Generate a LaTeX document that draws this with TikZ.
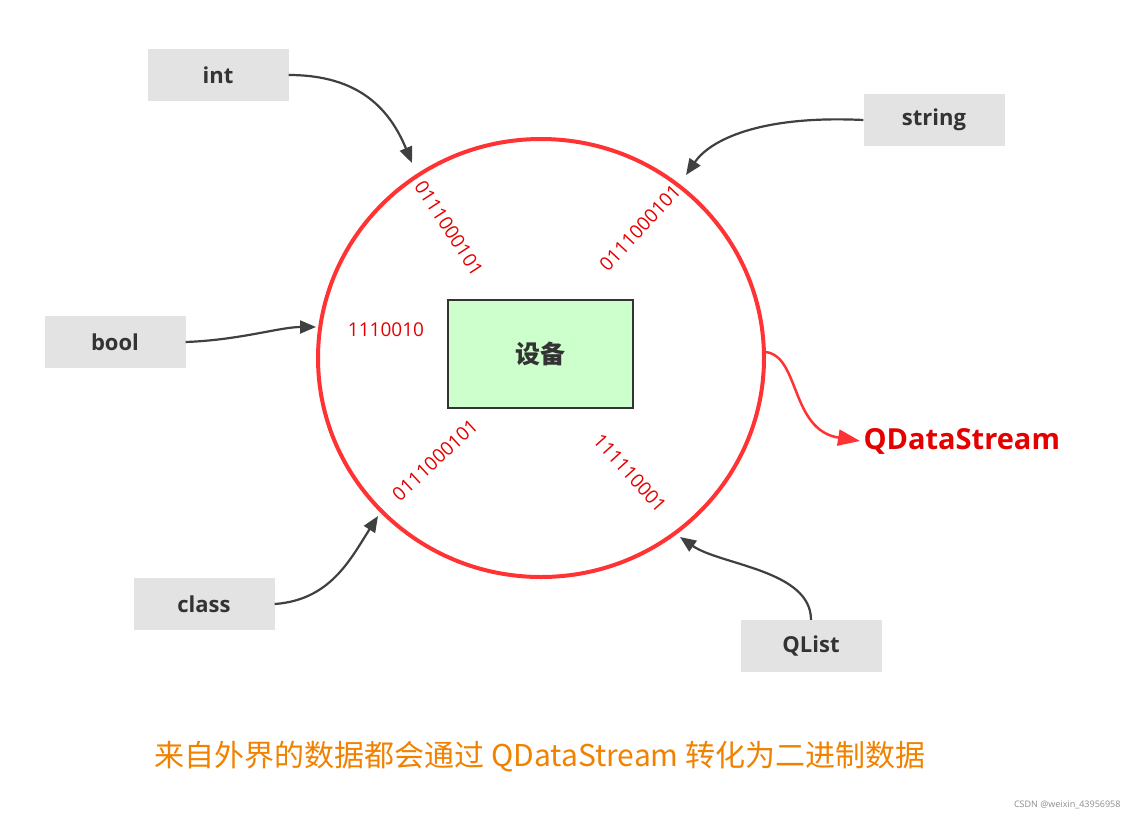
\documentclass[tikz,border=0pt]{standalone}
\usepackage{fontspec}
\setmainfont{Open Sans}
\newfontfamily\cjk{Noto Sans CJK SC}
\usetikzlibrary{arrows.meta}
\begin{document}
\begin{tikzpicture}[x=1pt,y=-1pt,
  tbox/.style={fill=black!11,minimum width=141pt,minimum height=52pt,font=\fontsize{22}{26}\selectfont\bfseries,text=black!80},
  arr/.style={draw=black!75,line width=2.2pt,-{Triangle[length=16pt,width=13pt]}},
  bits/.style={text=red!90!black,inner sep=0pt,font=\fontsize{19}{22}\selectfont}]
\useasboundingbox (0,0) rectangle (1138,820);
\fill[white] (0,0) rectangle (1138,820);
\draw[red!80,line width=4pt] (541,358) ellipse (223pt and 219pt);
\node[draw=black!80,line width=2pt,fill={rgb,255:red,204;green,255;blue,204},minimum width=185pt,minimum height=108pt,font=\cjk\fontsize{25}{28}\selectfont\bfseries,text=black!80] (dev) at (540,354) {设备};
\node[tbox] (int) at (218,75) {int};
\node[tbox] (string) at (934,120) {string};
\node[tbox] (bool) at (115,342) {bool};
\node[tbox] (class) at (204,604) {class};
\node[tbox] (qlist) at (811,646) {QList};
\coordinate (cint) at (412,163);
\coordinate (cstr) at (686,175);
\coordinate (cbool) at (316,327);
\coordinate (ccls) at (378,516);
\coordinate (cql) at (680,537);
\coordinate (cout) at (765,352);
\draw[arr] (int.east) .. controls (360,75) and (390,110) .. (cint);
\draw[arr] (string.west) .. controls (760,115) and (710,140) .. (cstr);
\draw[arr] (bool.east) .. controls (240,340) and (280,327) .. (cbool);
\draw[arr] (class.east) .. controls (330,600) and (350,560) .. (ccls);
\draw[arr] (qlist.north) .. controls (811,570) and (720,565) .. (cql);
\node[text=red!90!black,font=\fontsize{29}{32}\selectfont\bfseries,anchor=west] (qds) at (860,441) {QDataStream};
\draw[draw=red!80,line width=2.5pt,-{Triangle[length=22pt,width=16pt]}] (cout) .. controls (800,355) and (790,430) .. (qds.west);
\node[bits,rotate=-57] (b1) at (449,228) {0111000101};
\node[bits,rotate=47] (b2) at (640,228) {0111000101};
\node[bits,rotate=43] (b3) at (435,460) {0111000101};
\node[bits,rotate=-48] (b4) at (630,473) {111110001};
\node[bits] (b5) at (386,330) {1110010};
\node[text={rgb,255:red,240;green,130;blue,0},font=\cjk\fontsize{30}{34}\selectfont] (cap) at (540,757) {来自外界的数据都会通过 QDataStream 转化为二进制数据};
\node[text=black!45,font=\fontsize{9}{10}\selectfont,anchor=east] (wm) at (1124,805) {CSDN @weixin\_43956958};
\end{tikzpicture}
\end{document}
